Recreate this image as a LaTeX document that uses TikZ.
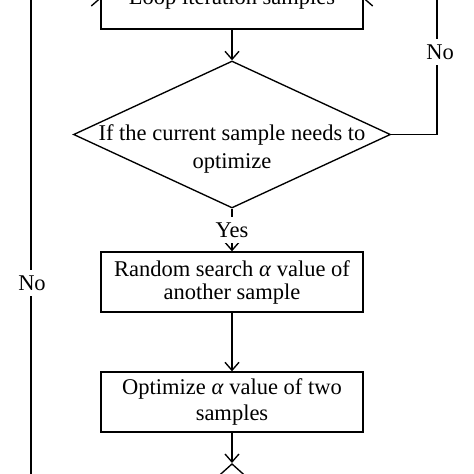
\documentclass[tikz,border=0pt]{standalone}
\usepackage{fontspec}
\setmainfont{Liberation Serif}
\usetikzlibrary{shapes.geometric,arrows.meta}
\begin{document}
\begin{tikzpicture}[x=1pt,y=-1pt, line width=1.35pt,
  font=\fontsize{22.5}{28}\selectfont,
  proc/.style={draw, rectangle, minimum width=262pt, minimum height=60pt, inner sep=0pt, align=center},
  arr/.style={-{Straight Barb[length=8pt,width=14pt,line width=1.35pt]}},
  lbl/.style={fill=white, inner xsep=2pt, inner ysep=6pt}]
\useasboundingbox (0,0) rectangle (474,474);
\clip (0,0) rectangle (474,474);
\node[proc] (loop) at (232,-1) {Loop iteration samples};
\node[draw, diamond, minimum width=317pt, minimum height=147pt, inner sep=0pt] (cond) at (232,134.5) {};
\node[align=center, font=\fontsize{22.5}{28}\selectfont] (condtext) at (232,149) {If the current sample needs to\\optimize};
\node[proc, font=\fontsize{22.5}{23}\selectfont] (rand) at (232,282) {Random search \textit{α} value of\\another sample};
\node[proc, font=\fontsize{22.5}{26}\selectfont] (opt) at (232,402) {Optimize \textit{α} value of two\\samples};
\node[draw, diamond, minimum width=200pt, minimum height=180pt, inner sep=0pt, anchor=north] (next) at (232,463) {};
\draw[arr] (loop) -- (cond);
\draw[arr] (cond) -- (rand);
\draw[arr] (rand) -- (opt);
\draw[arr] (opt) -- (next);
\coordinate (lb) at (31,490);
\draw[arr] (lb) |- (loop.west);
\coordinate (rc) at (437,-1);
\draw[arr] (cond.east) -| (rc) -- (loop.east);
\node[lbl] (no1) at (32,283) {No};
\node[lbl] (no2) at (440,52) {No};
\node[lbl] (yes) at (232,230) {Yes};
\end{tikzpicture}
\end{document}
